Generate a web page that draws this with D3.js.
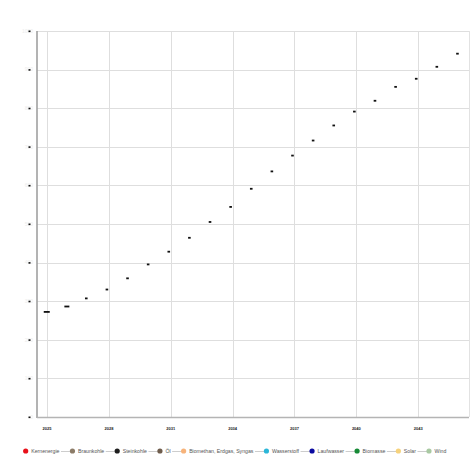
<!DOCTYPE html>
<html>
<head>
<meta charset="utf-8">
<script src="https://cdn.jsdelivr.net/npm/d3@7"></script>
<style>
  html, body { margin: 0; padding: 0; background: #fff; }
  svg { display: block; font-family: "Liberation Sans", Arial, sans-serif; }
</style>
</head>
<body>
<div id="grafico"></div>
<script>
// dados
var anos = [2025, 2026, 2027, 2028, 2029, 2030, 2031, 2032, 2033, 2034, 2035,
            2036, 2037, 2038, 2039, 2040, 2041, 2042, 2043, 2044, 2045];
var valores = [272, 286, 307, 330, 359, 395, 428, 464, 505, 544, 591,
               636, 677, 716, 755, 791, 819, 855, 876, 907, 941];
var anosTicks = [2025, 2028, 2031, 2034, 2037, 2040, 2043];
var valoresTicks = [0, 100, 200, 300, 400, 500, 600, 700, 800, 900, 1000];
var series = ['Kernenergie', 'Braunkohle', 'Steinkohle', 'Öl', 'Biomethan, Erdgas, Syngas',
              'Wasserstoff', 'Laufwasser', 'Biomasse', 'Solar', 'Wind'];
var cores = ['#e8101a', '#8c7c68', '#1e1e1e', '#6e5c4c', '#f7b37a',
             '#2bb6d8', '#0a0aa0', '#178a36', '#f6d27c', '#a9c9a2'];

var width = 474,
    height = 474,
    margin = {top: 31, right: 5, bottom: 56, left: 37};

var svg = d3.select("#grafico").append("svg")
    .attr("width", width)
    .attr("height", height);

var x = d3.scaleLinear()
    .domain([2024.6, 2045.55])
    .range([margin.left, width - margin.right]);

var y = d3.scaleLinear()
    .domain([0, 1000])
    .range([height - margin.bottom - 1, margin.top]);

// grade
svg.append("g")
    .selectAll("line")
    .data(valoresTicks)
    .enter().append("line")
    .attr("x1", margin.left)
    .attr("x2", width - margin.right)
    .attr("y1", function(d) { return Math.round(y(d)) + 0.5; })
    .attr("y2", function(d) { return Math.round(y(d)) + 0.5; })
    .attr("stroke", "#dedede")
    .attr("stroke-width", 1);

svg.append("g")
    .selectAll("line")
    .data(anosTicks)
    .enter().append("line")
    .attr("x1", function(d) { return Math.round(x(d) + 1.8) + 0.5; })
    .attr("x2", function(d) { return Math.round(x(d) + 1.8) + 0.5; })
    .attr("y1", y(1000))
    .attr("y2", y(0))
    .attr("stroke", "#dedede")
    .attr("stroke-width", 1);

// borda direita
svg.append("line")
    .attr("x1", width - margin.right + 0.5)
    .attr("x2", width - margin.right + 0.5)
    .attr("y1", y(1000))
    .attr("y2", y(0))
    .attr("stroke", "#e2e2e2");

// eixos
svg.append("line")
    .attr("x1", margin.left)
    .attr("x2", margin.left)
    .attr("y1", y(1000))
    .attr("y2", y(0) + 1)
    .attr("stroke", "#a0a0a0")
    .attr("stroke-width", 1.6);

svg.append("line")
    .attr("x1", margin.left)
    .attr("x2", width - margin.right)
    .attr("y1", y(0) + 0.5)
    .attr("y2", y(0) + 0.5)
    .attr("stroke", "#b4b4b4")
    .attr("stroke-width", 1.4);

// ticks do eixo y (rotulos quase brancos + marca preta)
var ticksY = svg.append("g").selectAll("g")
    .data(valoresTicks)
    .enter().append("g")
    .attr("transform", function(d) { return "translate(0," + y(d) + ")"; });

ticksY.append("text")
    .attr("x", 33)
    .attr("dy", "0.35em")
    .attr("text-anchor", "end")
    .attr("font-size", "5px")
    .attr("fill", "#ececec")
    .text(function(d) { return d; });

ticksY.append("rect")
    .attr("x", 28.5)
    .attr("y", -0.5)
    .attr("width", 2)
    .attr("height", 1.6)
    .attr("fill", "#111");

// rotulos do eixo x
svg.append("g").selectAll("text")
    .data(anosTicks)
    .enter().append("text")
    .attr("x", function(d) { return x(d) + 1.8; })
    .attr("y", y(0) + 13)
    .attr("text-anchor", "middle")
    .attr("font-size", "4px")
    .attr("font-weight", "bold")
    .attr("fill", "#1a1a1a")
    .text(function(d) { return d; });

// pontos
svg.append("g").selectAll("rect")
    .data(anos)
    .enter().append("rect")
    .attr("x", function(d) { return x(d) - 1.5; })
    .attr("y", function(d, i) { return y(valores[i]) - 1; })
    .attr("width", function(d, i) { return i == 0 ? 6 : (i == 1 ? 5 : 2.6); })
    .attr("height", 1.8)
    .attr("fill", "#111");

// legenda
var legenda = svg.append("g")
    .attr("class", "legenda");

var itens = legenda.selectAll("g")
    .data(series)
    .enter().append("g");

itens.append("circle")
    .attr("r", 2.6)
    .attr("fill", function(d, i) { return cores[i]; });

itens.append("text")
    .attr("x", 5.5)
    .attr("dy", "0.35em")
    .attr("font-size", "5.2px")
    .attr("fill", "#555")
    .text(function(d) { return d; });

var pos = 0, gap = 13, posicoes = [];
itens.each(function(d, i) {
  posicoes.push(pos);
  var w = d3.select(this).select("text").node().getComputedTextLength();
  pos += 5.5 + w + gap;
});
var total = pos - gap;
var inicio = 28 + (416 - total) / 2;

itens.attr("transform", function(d, i) {
  return "translate(" + (inicio + posicoes[i]) + ",451)";
});

itens.filter(function(d, i) { return i > 0; })
    .insert("line", "circle")
    .attr("x1", -gap + 1.5)
    .attr("x2", -2)
    .attr("y1", 0.5)
    .attr("y2", 0.5)
    .attr("stroke", "#9a9a9a")
    .attr("stroke-width", 0.5);
</script>
</body>
</html>
